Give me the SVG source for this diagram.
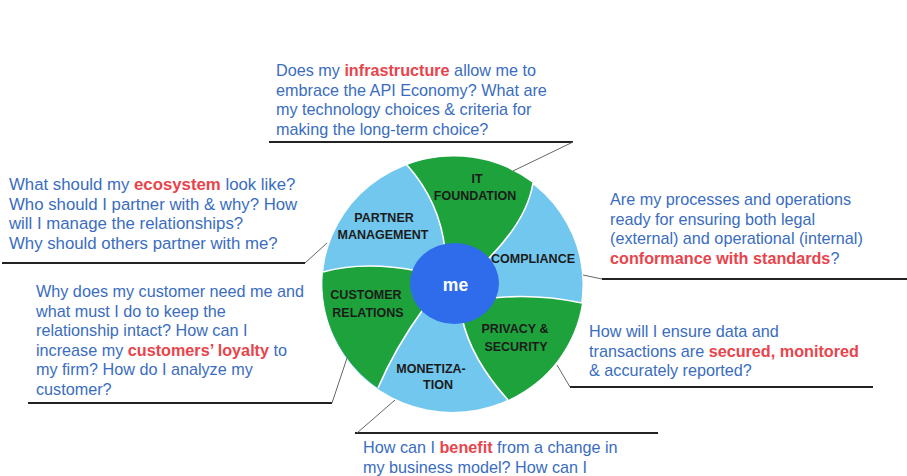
<svg xmlns="http://www.w3.org/2000/svg" width="907" height="476" viewBox="0 0 907 476">
<style>
.q{font-family:"Liberation Sans",Arial,sans-serif;font-size:16.2px;fill:#3A6DC0}
.qb{font-size:16.8px}
.hl{fill:#E8444C;font-weight:bold}
.lbl{font-family:"Liberation Sans",Arial,sans-serif;font-size:12.5px;font-weight:bold;fill:#1b1b1b;text-anchor:middle}
.ul{stroke:#222;stroke-width:2;fill:none}
.cn{stroke:#666;stroke-width:1;fill:none}
.light{fill:#72C7EF}
.green{fill:#1DA23C}
.sep{stroke:#fff;stroke-width:1.6;fill:none}
</style>
<rect width="907" height="476" fill="#fff"/>
<g id="wheel">
<ellipse class="light" cx="452.5" cy="284.5" rx="130" ry="127.5"/>
<path class="green" d="M407,165 Q440,202 445,250 L485,262 Q527,221 533,183 A130 127.5 0 0 0 407,165 Z"/>
<path class="green" d="M493,298 Q536.5,293.5 582,303 A130 127.5 0 0 1 508,400 Q471,359 462,318 Z"/>
<path class="green" d="M323,272 Q364,260.5 418,271 L424,308 Q395,348 378,388 A130 127.5 0 0 1 323,272 Z"/>
<path class="sep" d="M407,165 Q440,202 445,250"/>
<path class="sep" d="M485,262 Q527,221 533,183"/>
<path class="sep" d="M493,298 Q536.5,293.5 582,303"/>
<path class="sep" d="M508,400 Q471,359 462,318"/>
<path class="sep" d="M323,272 Q364,260.5 418,271"/>
<path class="sep" d="M424,308 Q395,348 378,388"/>
</g>
<g id="node-it"><text class="lbl" x="477" y="183">IT</text><text class="lbl" x="475" y="200">FOUNDATION</text></g>
<g id="node-partner"><text class="lbl" x="384" y="222">PARTNER</text><text class="lbl" x="383" y="239">MANAGEMENT</text></g>
<g id="node-compliance"><text class="lbl" x="533" y="263">COMPLIANCE</text></g>
<g id="node-customer"><text class="lbl" x="366" y="299">CUSTOMER</text><text class="lbl" x="368" y="317">RELATIONS</text></g>
<g id="node-privacy"><text class="lbl" x="515" y="333">PRIVACY &amp;</text><text class="lbl" x="516" y="351">SECURITY</text></g>
<g id="node-monetization"><text class="lbl" x="431" y="373">MONETIZA-</text><text class="lbl" x="438" y="389">TION</text></g>
<g id="node-me">
<ellipse cx="454.5" cy="283.5" rx="44.5" ry="40.5" fill="#2F6CEB"/>
<text x="455.5" y="291" font-family="Liberation Sans,Arial,sans-serif" font-size="17.5" font-weight="bold" fill="#fff" text-anchor="middle">me</text>
</g>
<g id="connectors">
<line class="ul" x1="269" y1="142" x2="573" y2="142"/>
<line class="cn" x1="573" y1="142" x2="513" y2="171"/>
<line class="ul" x1="2" y1="263" x2="305" y2="263"/>
<line class="cn" x1="305" y1="263" x2="327" y2="243"/>
<line class="ul" x1="28" y1="403" x2="332" y2="403"/>
<line class="cn" x1="332" y1="403" x2="347" y2="358"/>
<line class="ul" x1="602" y1="279" x2="907" y2="279"/>
<line class="cn" x1="602" y1="279" x2="583" y2="275"/>
<line class="ul" x1="570" y1="387" x2="873" y2="387" stroke-width="1.6"/>
<line class="cn" x1="570" y1="387" x2="557" y2="365"/>
<line class="ul" x1="355" y1="433" x2="658" y2="433" stroke-width="1.8"/>
<line class="cn" x1="357" y1="433" x2="395" y2="400"/>
</g>
<g id="q-infrastructure">
<text class="q" x="276" y="76">Does my <tspan class="hl">infrastructure</tspan> allow me to</text>
<text class="q" x="276" y="95.5">embrace the API Economy? What are</text>
<text class="q" x="276" y="115">my technology choices &amp; criteria for</text>
<text class="q" x="276" y="134.5">making the long-term choice?</text>
</g>
<g id="q-ecosystem">
<text class="q qb" x="9" y="190">What should my <tspan class="hl">ecosystem</tspan> look like?</text>
<text class="q qb" x="9" y="209.5">Who should I partner with &amp; why? How</text>
<text class="q qb" x="9" y="229">will I manage the relationships?</text>
<text class="q qb" x="9" y="248.5">Why should others partner with me?</text>
</g>
<g id="q-customer">
<text class="q" x="36" y="297">Why does my customer need me and</text>
<text class="q" x="36" y="316.5">what must I do to keep the</text>
<text class="q" x="36" y="336">relationship intact? How can I</text>
<text class="q" x="36" y="355.5">increase my <tspan class="hl">customers’ loyalty</tspan> to</text>
<text class="q" x="36" y="375">my firm? How do I analyze my</text>
<text class="q" x="36" y="394.5">customer?</text>
</g>
<g id="q-compliance">
<text class="q" x="610" y="205">Are my processes and operations</text>
<text class="q" x="610" y="224.5">ready for ensuring both legal</text>
<text class="q" x="610" y="244">(external) and operational (internal)</text>
<text class="q" x="610" y="263.5"><tspan class="hl">conformance with standards</tspan>?</text>
</g>
<g id="q-privacy">
<text class="q" x="589" y="337">How will I ensure data and</text>
<text class="q" x="589" y="356.5">transactions are <tspan class="hl">secured, monitored</tspan></text>
<text class="q" x="589" y="376">&amp; accurately reported?</text>
</g>
<g id="q-benefit">
<text class="q" x="363" y="453">How can I <tspan class="hl">benefit</tspan> from a change in</text>
<text class="q" x="363" y="472.5">my business model? How can I</text>
</g>
</svg>
